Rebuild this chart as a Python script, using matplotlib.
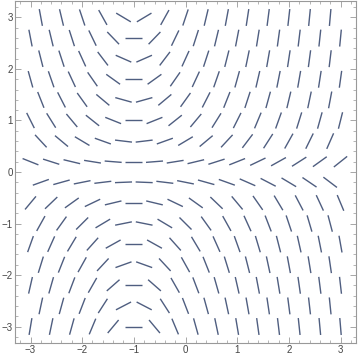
import matplotlib
matplotlib.use('Agg')
import matplotlib.pyplot as plt
import numpy as np
from matplotlib.collections import LineCollection
from matplotlib.ticker import MultipleLocator

#-----------------------------------------------------------------
# slope field of y' = (1 + x) y, segments on a staggered grid
#-----------------------------------------------------------------
rows_y = [3.0, 2.6, 2.2, 1.8, 1.4, 1.0, 0.6, 0.2,
          -0.2, -0.6, -1.0, -1.4, -1.8, -2.2, -2.6, -3.0]
x_even = [-2.8, -2.4, -2.0, -1.6, -1.2, -0.8, -0.4, 0.0,
          0.4, 0.8, 1.2, 1.6, 2.0, 2.4, 2.8]
x_odd = [-3.0, -2.6, -2.2, -1.8, -1.4, -1.0, -0.6, -0.2,
         0.2, 0.6, 1.0, 1.4, 1.8, 2.2, 2.6, 3.0]
x_shift = -1.0   # slope is zero along x = -1 and y = 0


def slope(x, y):
    return (x - x_shift) * y


seg_len = 0.33
segs = []
for i, y in enumerate(rows_y):
    xs = x_even if i % 2 == 0 else x_odd
    for x in xs:
        th = np.arctan(slope(x, y))
        dx = 0.5 * seg_len * np.cos(th)
        dy = 0.5 * seg_len * np.sin(th)
        segs.append([(x - dx, y - dy), (x + dx, y + dy)])

plt.rcParams['font.family'] = ['Liberation Sans', 'DejaVu Sans']

fig = plt.figure(figsize=(3.6, 3.61), dpi=100)
ax = fig.add_axes([15/360, 18/361, 341/360, 342/361])
ax.add_collection(LineCollection(segs, colors='#4f5e80', linewidths=1.0))

ax.set_xlim(-3.3, 3.3)
ax.set_ylim(-3.32, 3.32)
ax.xaxis.set_major_locator(MultipleLocator(1))
ax.yaxis.set_major_locator(MultipleLocator(1))
ax.xaxis.set_minor_locator(MultipleLocator(0.2))
ax.yaxis.set_minor_locator(MultipleLocator(0.2))
ax.tick_params(which='both', direction='in', top=True, right=True,
               color='#999999', labelsize=7, labelcolor='#444444', pad=1.5)
ax.tick_params(which='major', length=4, width=0.6)
ax.tick_params(which='minor', length=2, width=0.5)
for s in ax.spines.values():
    s.set_color('#999999')
    s.set_linewidth(0.8)

fig.savefig('out.png', dpi=100)
